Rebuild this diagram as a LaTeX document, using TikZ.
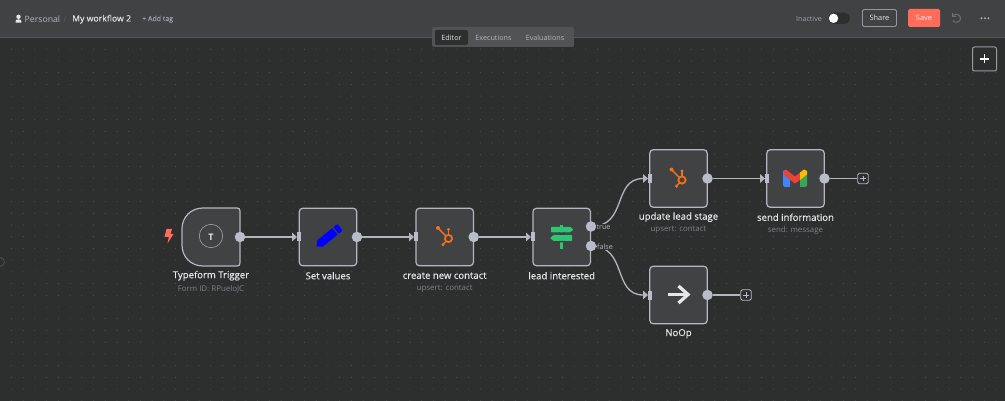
\documentclass[tikz,border=0pt]{standalone}
\usepackage{fontspec}
\setmainfont{Open Sans}
\usetikzlibrary{arrows.meta,calc}
\definecolor{canvas}{HTML}{2D2E2E}
\definecolor{bar}{HTML}{414244}
\definecolor{barline}{HTML}{555658}
\definecolor{tabbg}{HTML}{525355}
\definecolor{boxfill}{HTML}{414244}
\definecolor{boxline}{HTML}{B4B6C0}
\definecolor{port}{HTML}{B9BCC9}
\definecolor{wire}{HTML}{B4B6BE}
\definecolor{labelc}{HTML}{E6E7EA}
\definecolor{subc}{HTML}{7F828A}
\definecolor{dotc}{HTML}{505153}
\definecolor{hub}{HTML}{F2711C}
\definecolor{salmon}{HTML}{FF6D5A}
\definecolor{signc}{HTML}{2FC573}
\definecolor{gblue}{HTML}{4285F4}
\definecolor{ggreen}{HTML}{34A853}
\definecolor{gred}{HTML}{EA4335}
\definecolor{gyellow}{HTML}{FBBC04}
\tikzset{
  x=1pt,y=-1pt,
  nodebox/.style={draw=boxline,fill=boxfill,line width=1.2pt,rounded corners=3.5pt,minimum width=57.5pt,minimum height=57.5pt,inner sep=0pt},
  outport/.style={circle,fill=port,minimum size=10.5pt,inner sep=0pt},
  inport/.style={fill=port,minimum width=3.5pt,minimum height=9pt,inner sep=0pt},
  wirec/.style={draw=wire,line width=1.3pt},
  wirein/.style={wirec,-{Triangle[length=5pt,width=8.5pt]}},
  title/.style={text=labelc,font=\fontsize{9.55}{12}\selectfont\addfontfeature{FakeBold=0.25},inner sep=0pt},
  subtitle/.style={text=subc,font=\fontsize{7.9}{9}\selectfont,inner sep=0pt},
  branch/.style={text=wire,fill=canvas,font=\fontsize{7.2}{9}\selectfont,inner sep=0.6pt},
  plusbox/.style={draw=boxline,fill=canvas,line width=.9pt,rounded corners=1.5pt,minimum size=10.5pt,inner sep=0pt},
  bartext/.style={inner sep=0pt,font=\fontsize{8}{10}\selectfont},
  hubline/.style={draw=hub,line width=1.5pt},
  pics/hubspot/.style={code={
    \draw[hubline,line width=1.8pt] (3,1.5) circle (3.6);
    \draw[hubline] (3,-2) -- (3,-7);
    \draw[hubline] (0.5,-0.8) -- (-7.5,-9);
    \draw[hubline] (0.8,4) -- (-2.5,7.5);
    \fill[hub] (3,-7.5) circle (1.7) (-7.5,-9) circle (2) (-2.5,7.7) circle (1.6);
  }}
}
\begin{document}
\begin{tikzpicture}
\useasboundingbox (0,0) rectangle (1005,401);
\fill[canvas] (0,0) rectangle (1005,401);
% dot grid
\foreach \i in {0,...,86} \foreach \j in {0,...,31}
  \fill[dotc] ({11.5+\i*11.72},{37.5+\j*11.72}) circle (.55);
% header
\fill[bar] (0,0) rectangle (1005,37);
\draw[barline,line width=.7pt] (0,37) -- (1005,37);
\fill[labelc] (18.5,16.8) circle (2.2);
\fill[labelc] (15.6,22.7) -- (15.6,21.2) .. controls (15.6,19.8) and (17,19.4) .. (18.5,19.4) .. controls (20,19.4) and (21.4,19.8) .. (21.4,21.2) -- (21.4,22.7) -- cycle;
\node[bartext,anchor=west,text=boxline,font=\fontsize{8.7}{10}\selectfont] (personal) at (24.5,19.2) {Personal};
\node[text=barline,inner sep=0pt,font=\fontsize{9}{10}\selectfont] (slash) at (65,19) {/};
\node[bartext,anchor=west,text=labelc,font=\fontsize{8.7}{10}\selectfont\addfontfeature{FakeBold=0.2}] (wfname) at (72,19.2) {My workflow 2};
\node[bartext,anchor=west,text=port!85!black,font=\fontsize{7}{9}\selectfont\addfontfeature{FakeBold=0.2}] (addtag) at (142,19.2) {+ Add tag};
% tabs
\fill[tabbg,rounded corners=2pt] (432,27) rectangle (574,47);
\fill[canvas,rounded corners=2pt] (435,30) rectangle (468,45);
\node[bartext,text=labelc,font=\fontsize{7.2}{9}\selectfont] (tabedit) at (451.5,37.6) {Editor};
\node[bartext,text=boxline,font=\fontsize{7.2}{9}\selectfont] (tabexec) at (493.5,37.6) {Executions};
\node[bartext,text=boxline,font=\fontsize{7.2}{9}\selectfont] (tabeval) at (545,37.6) {Evaluations};
% right controls
\node[bartext,text=port!85!black,font=\fontsize{7.2}{9}\selectfont] (inactive) at (809,19) {Inactive};
\fill[canvas,rounded corners=5.5pt] (828,12.7) rectangle (850,24);
\fill[white] (833.5,18.3) circle (4.7);
\node[draw=port!80!black,line width=.8pt,rounded corners=1.5pt,minimum width=34pt,minimum height=17pt,inner sep=0pt,text=labelc,font=\fontsize{7.4}{9}\selectfont] (share) at (879.5,18) {Share};
\node[fill=salmon,rounded corners=1.5pt,minimum width=32pt,minimum height=18pt,inner sep=0pt,text=white!90!salmon,font=\fontsize{7.4}{9}\selectfont] (save) at (924,18) {Save};
\draw[barline!85!white,line width=1pt] (953,15.5) .. controls (955,13.2) and (960.5,14) .. (960.5,18.3) .. controls (960.5,22.5) and (955,23.5) .. (952.8,20.5);
\draw[barline!85!white,line width=.8pt] (952.5,13) -- (952.5,16) -- (955.5,16);
\fill[port!90!black] (981.5,18.3) circle (1.1) (985,18.3) circle (1.1) (988.5,18.3) circle (1.1);
\node[draw=boxline!85!black,fill=canvas,line width=1pt,rounded corners=2pt,minimum size=24pt,inner sep=0pt] (addnode) at (984.5,59) {};
\draw[white,line width=1.9pt] (980,59) -- (989,59) (984.5,54.5) -- (984.5,63.5);
% left handle
\draw[dotc,fill=canvas,line width=.7pt] (0,262) circle (4.5);
% nodes
\node[minimum width=58pt,minimum height=58pt,inner sep=0pt] (typeform) at (211,237) {};
\draw[draw=boxline,fill=boxfill,line width=1.2pt] (203,208) -- (237,208) .. controls (239,208) and (240,209) .. (240,211) -- (240,263) .. controls (240,265) and (239,266) .. (237,266) -- (203,266) .. controls (191,266) and (182,257) .. (182,245) -- (182,229) .. controls (182,217) and (191,208) .. (203,208) -- cycle;
\node[nodebox] (setvalues) at (328,237) {};
\node[nodebox] (createc) at (444.7,237) {};
\node[nodebox] (lead) at (561.7,237) {};
\node[nodebox] (update) at (678.5,178.5) {};
\node[nodebox] (sendinfo) at (795.5,178.5) {};
\node[nodebox] (noop) at (678.5,295) {};
% ports
\node[outport] (o1) at (240,237) {};
\node[outport] (o2) at (357,237) {};
\node[outport] (o3) at (473.7,237) {};
\node[outport] (o4a) at (591,226.5) {};
\node[outport] (o4b) at (591,246) {};
\node[outport] (o5) at (707.5,178.5) {};
\node[outport] (o6) at (824.5,178.5) {};
\node[outport] (o7) at (707.5,295) {};
\node[inport] (i2) at (299,237) {};
\node[inport] (i3) at (416,237) {};
\node[inport] (i4) at (533,237) {};
\node[inport] (i5) at (650,178.5) {};
\node[inport] (i6) at (767,178.5) {};
\node[inport] (i7) at (650,295) {};
\node[plusbox] (p1) at (863,178.5) {};
\node[plusbox] (p2) at (746,295) {};
\draw[port,line width=1pt] (p1.center) +(-2.8,0) -- +(2.8,0) +(0,-2.8) -- +(0,2.8);
\draw[port,line width=1pt] (p2.center) +(-2.8,0) -- +(2.8,0) +(0,-2.8) -- +(0,2.8);
% connectors
\draw[wirein] (o1) -- (i2);
\draw[wirein] (o2) -- (i3);
\draw[wirein] (o3) -- (i4);
\draw[wirein] (o4a.center) .. controls (628,226.5) and (612,178.5) .. (i5.west);
\draw[wirein] (o4b.center) .. controls (628,246) and (612,295) .. (i7.west);
\draw[wirein] (o5) -- (i6);
\draw[wirec] (o6) -- (p1);
\draw[wirec] (o7) -- (p2);
\node[branch] (ltrue) at (603.5,226.8) {true};
\node[branch] (lfalse) at (605,246.3) {false};
% labels
\node[title] (t1) at (211,275.7) {Typeform Trigger};
\node[subtitle] (s1) at (211,288.8) {Form ID: RPueloJC};
\node[title] (t2) at (328,275.7) {Set values};
\node[title] (t3) at (444.7,275.7) {create new contact};
\node[subtitle] (s3) at (444.7,288.8) {upsert: contact};
\node[title] (t4) at (561.7,275.7) {lead interested};
\node[title] (t5) at (678.5,217.2) {update lead stage};
\node[subtitle] (s5) at (678.5,230.3) {upsert: contact};
\node[title] (t6) at (795.5,217.2) {send information};
\node[subtitle] (s6) at (795.5,230.3) {send: message};
\node[title] (t7) at (678.5,333.7) {NoOp};
% lightning
\fill[salmon] (166.5,229) -- (172,229) -- (170.5,234) -- (173.5,234) -- (167.5,243.5) -- (168.8,237) -- (164.5,237) -- cycle;
% typeform icon
\draw[boxline!90!black,line width=.6pt] (211,236) circle (11.7);
\node[inner sep=0pt,text=labelc,font=\fontsize{9}{10}\bfseries\selectfont] (tglyph) at (211,237) {T};
% pencil
\begin{scope}[shift={(328,237)},rotate=39]
\fill[blue] (-15,0) -- (-10,-4.2) -- (9,-4.2) -- (9,4.2) -- (-10,4.2) -- cycle;
\fill[blue,rounded corners=1pt] (10.3,-4.2) rectangle (15.5,4.2);
\end{scope}
% hubspot icons
\pic at (445.5,237) {hubspot};
\pic at (679,178.5) {hubspot};
% signpost
\fill[signc] (560.3,225.5) rectangle (563.3,249);
\fill[signc,rounded corners=.7pt] (551,226.8) -- (570,226.8) -- (573.5,229.6) -- (570,232.4) -- (551,232.4) -- cycle;
\fill[signc,rounded corners=.7pt] (553.5,235) -- (572,235) -- (572,241) -- (553.5,241) -- (550,238) -- cycle;
\fill[boxfill] (559,232.4) rectangle (565,235) (559,241) rectangle (565,242.5);
% noop arrow
\draw[labelc,line width=3.3pt] (668,294.5) -- (687,294.5);
\draw[labelc,line width=3.3pt] (678.5,286) -- (688,294.5) -- (678.5,303);
% gmail
\fill[gblue] (783,172) .. controls (783,170.5) and (784,170) .. (785,170) -- (790,174) -- (790,187) -- (784.5,187) -- (783,185.5) -- cycle;
\fill[ggreen] (807,172) -- (807,185.5) -- (805.5,187) -- (800,187) -- (800,174) -- cycle;
\fill[gred] (783.5,170.5) -- (786,169.5) -- (795,176.5) -- (800,172.5) -- (800,180) -- (795,183.5) -- (785,176) -- cycle;
\fill[gyellow] (800,172.5) -- (804,169.5) -- (807,171) -- (807,174.5) -- (800,180) -- cycle;
\end{tikzpicture}
\end{document}
